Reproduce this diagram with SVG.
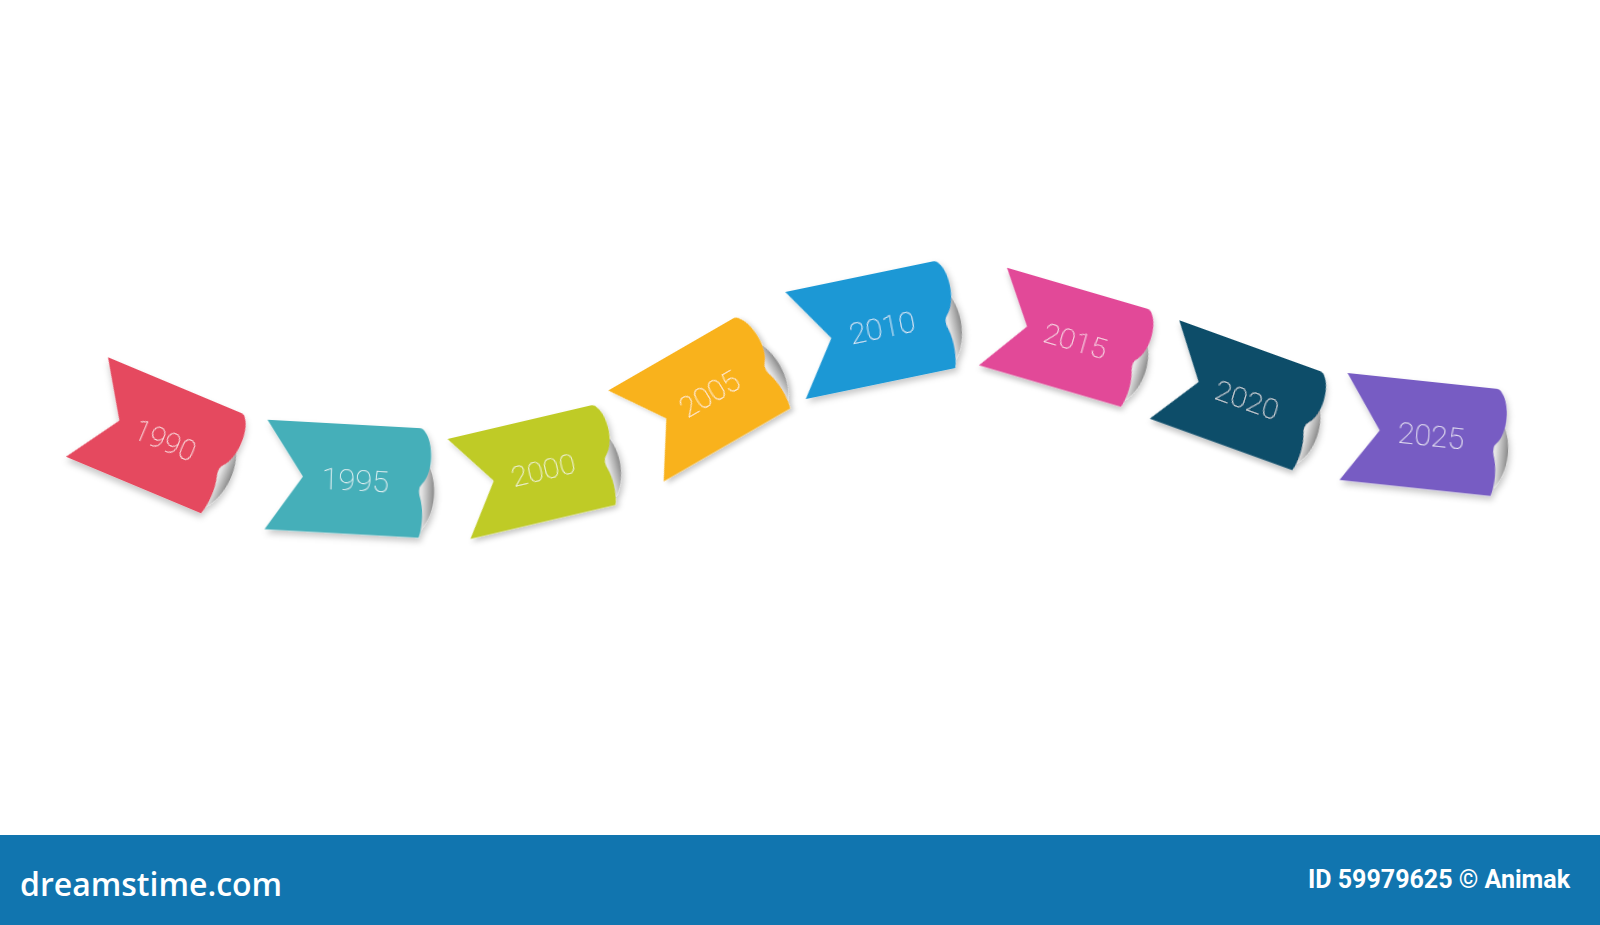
<svg xmlns="http://www.w3.org/2000/svg" width="1600" height="925" viewBox="0 0 1600 925">
<defs>
<filter id="ds" x="-20%" y="-20%" width="150%" height="160%">
<feDropShadow dx="2" dy="4" stdDeviation="3" flood-color="#000" flood-opacity="0.22"/>
</filter>
<linearGradient id="curlg" x1="0" y1="0" x2="1" y2="0">
<stop offset="0" stop-color="#ffffff"/>
<stop offset="0.5" stop-color="#e2e2e2"/>
<stop offset="1" stop-color="#8a8a8a"/>
</linearGradient>
<path id="body" d="M0,0 L148,0 Q152,0 154,4 C162,14 163,44 152,56 Q148,60 150,68 C154,80 154,98 150,110 L0,110 L36,55 Z"/>
<path id="curl" d="M154,30 C168,48 168,86 150,104 L140,60 Z"/>
</defs>
<style>
.curl{fill:url(#curlg)}
.yr{font-family:Roboto,"Liberation Sans",sans-serif;font-weight:100;font-size:30px;fill:#ffffff;fill-opacity:0.92;text-anchor:middle}
.brand{font-family:"Open Sans","Liberation Sans",sans-serif;font-weight:600;font-size:32px;fill:#ffffff}
.idt{font-family:Roboto,"Liberation Sans",sans-serif;font-weight:700;font-size:25px;fill:#ffffff;text-anchor:end}
</style>
<rect width="1600" height="925" fill="#ffffff"/>
<g id="connectors"/>
<g id="tag-1990" transform="matrix(0.9,0.3767,-0.3818,0.9045,108,357.25)" filter="url(#ds)">
<use href="#curl" class="curl"/><use href="#body" fill="#e5485f"/>
<text class="yr" x="87" y="66">1990</text></g>
<g id="tag-1995" transform="matrix(1.0267,0.0567,-0.0273,0.9955,267.5,419.75)" filter="url(#ds)">
<use href="#curl" class="curl"/><use href="#body" fill="#44afb9"/>
<text class="yr" x="87" y="66">1995</text></g>
<g id="tag-2000" transform="matrix(0.9667,-0.2267,0.2091,0.9091,447.5,439)" filter="url(#ds)">
<use href="#curl" class="curl"/><use href="#body" fill="#bfcb25"/>
<text class="yr" x="87" y="66">2000</text></g>
<g id="tag-2005" transform="matrix(0.8433,-0.4867,0.5045,0.8273,608.25,390.5)" filter="url(#ds)">
<use href="#curl" class="curl"/><use href="#body" fill="#f9b21b"/>
<text class="yr" x="87" y="66">2005</text></g>
<g id="tag-2010" transform="matrix(0.9967,-0.2067,0.1864,0.9727,785.25,292)" filter="url(#ds)">
<use href="#curl" class="curl"/><use href="#body" fill="#1e98d5"/>
<text class="yr" x="87" y="66">2010</text></g>
<g id="tag-2015" transform="matrix(0.9467,0.2767,-0.2545,0.8864,1007,267.75)" filter="url(#ds)">
<use href="#curl" class="curl"/><use href="#body" fill="#e24a98"/>
<text class="yr" x="87" y="66">2015</text></g>
<g id="tag-2020" transform="matrix(0.95,0.3433,-0.2682,0.8955,1179.25,320.25)" filter="url(#ds)">
<use href="#curl" class="curl"/><use href="#body" fill="#104d69"/>
<text class="yr" x="87" y="66">2020</text></g>
<g id="tag-2025" transform="matrix(1.0067,0.1067,-0.0727,0.9727,1347.5,373)" filter="url(#ds)">
<use href="#curl" class="curl"/><use href="#body" fill="#775bc3"/>
<text class="yr" x="87" y="66">2025</text></g>
<g id="footer">
<rect x="0" y="835" width="1600" height="90" fill="#1175af"/>
<text class="brand" x="20" y="896">dreamstime.com</text>
<text class="idt" x="1570" y="888">ID 59979625 © Animak</text>
</g>
</svg>
